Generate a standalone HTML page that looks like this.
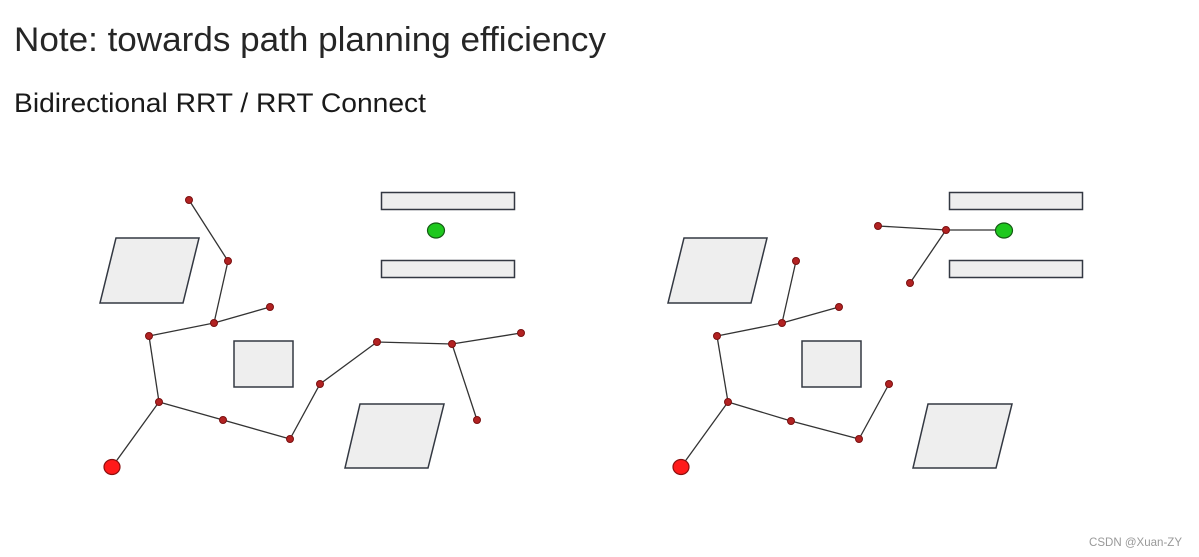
<!DOCTYPE html>
<html><head><meta charset="utf-8"><style>
html,body{margin:0;padding:0;background:#fff;}
svg{display:block;}
</style></head><body>
<svg width="1199" height="557" viewBox="0 0 1199 557" xmlns="http://www.w3.org/2000/svg">
<rect width="1199" height="557" fill="#fff"/>
<text x="14" y="51" font-family="Liberation Sans, sans-serif" font-size="34" fill="#262626" textLength="592" lengthAdjust="spacingAndGlyphs">Note: towards path planning efficiency</text>
<text x="14" y="112" font-family="Liberation Sans, sans-serif" font-size="27" fill="#1a1a1a" textLength="412" lengthAdjust="spacingAndGlyphs">Bidirectional RRT / RRT Connect</text>
<text x="1089" y="546" font-family="Liberation Sans, sans-serif" font-size="12" fill="#999" textLength="93" lengthAdjust="spacingAndGlyphs">CSDN @Xuan-ZY</text>

<g fill="#eeeeee" stroke="#333842" stroke-width="1.5">
<polygon points="116,238 199,238 183,303 100,303"/>
<rect x="234" y="341" width="59" height="46"/>
<polygon points="360,404 444,404 428,468 345,468"/>
<rect x="381.5" y="192.5" width="133" height="17"/>
<rect x="381.5" y="260.5" width="133" height="17"/>
<polygon points="684,238 767,238 751,303 668,303"/>
<rect x="802" y="341" width="59" height="46"/>
<polygon points="928,404 1012,404 996,468 913,468"/>
<rect x="949.5" y="192.5" width="133" height="17"/>
<rect x="949.5" y="260.5" width="133" height="17"/>
</g>

<g stroke="#333" stroke-width="1.3" fill="none">
<polyline points="189,200 228,261 214,323 149,336 159,402 112,467"/>
<line x1="214" y1="323" x2="270" y2="307"/>
<polyline points="159,402 223,420 290,439 320,384 377,342 452,344 521,333"/>
<line x1="452" y1="344" x2="477" y2="420"/>

<polyline points="796,261 782,323 717,336 728,402 681,467"/>
<line x1="782" y1="323" x2="839" y2="307"/>
<polyline points="728,402 791,421 859,439 889,384"/>
<polyline points="878,226 946,230 1004,230"/>
<line x1="946" y1="230" x2="910" y2="283"/>
</g>

<g fill="#b22222" stroke="#7a1010" stroke-width="1">
<circle cx="189" cy="200" r="3.5"/><circle cx="228" cy="261" r="3.5"/><circle cx="214" cy="323" r="3.5"/>
<circle cx="270" cy="307" r="3.5"/><circle cx="149" cy="336" r="3.5"/><circle cx="159" cy="402" r="3.5"/>
<circle cx="223" cy="420" r="3.5"/><circle cx="290" cy="439" r="3.5"/><circle cx="320" cy="384" r="3.5"/>
<circle cx="377" cy="342" r="3.5"/><circle cx="452" cy="344" r="3.5"/><circle cx="521" cy="333" r="3.5"/>
<circle cx="477" cy="420" r="3.5"/>
<circle cx="796" cy="261" r="3.5"/><circle cx="782" cy="323" r="3.5"/><circle cx="839" cy="307" r="3.5"/>
<circle cx="717" cy="336" r="3.5"/><circle cx="728" cy="402" r="3.5"/><circle cx="791" cy="421" r="3.5"/>
<circle cx="859" cy="439" r="3.5"/><circle cx="889" cy="384" r="3.5"/>
<circle cx="878" cy="226" r="3.5"/><circle cx="946" cy="230" r="3.5"/><circle cx="910" cy="283" r="3.5"/>
</g>
<g stroke="#8a1010" stroke-width="1.2" fill="#ff1a1a">
<ellipse cx="112" cy="467" rx="8" ry="7.5"/>
<ellipse cx="681" cy="467" rx="8" ry="7.5"/>
</g>
<g stroke="#155a15" stroke-width="1.2" fill="#1ec81e">
<ellipse cx="436" cy="230.5" rx="8.5" ry="7.5"/>
<ellipse cx="1004" cy="230.5" rx="8.5" ry="7.5"/>
</g>
</svg>
</body></html>
